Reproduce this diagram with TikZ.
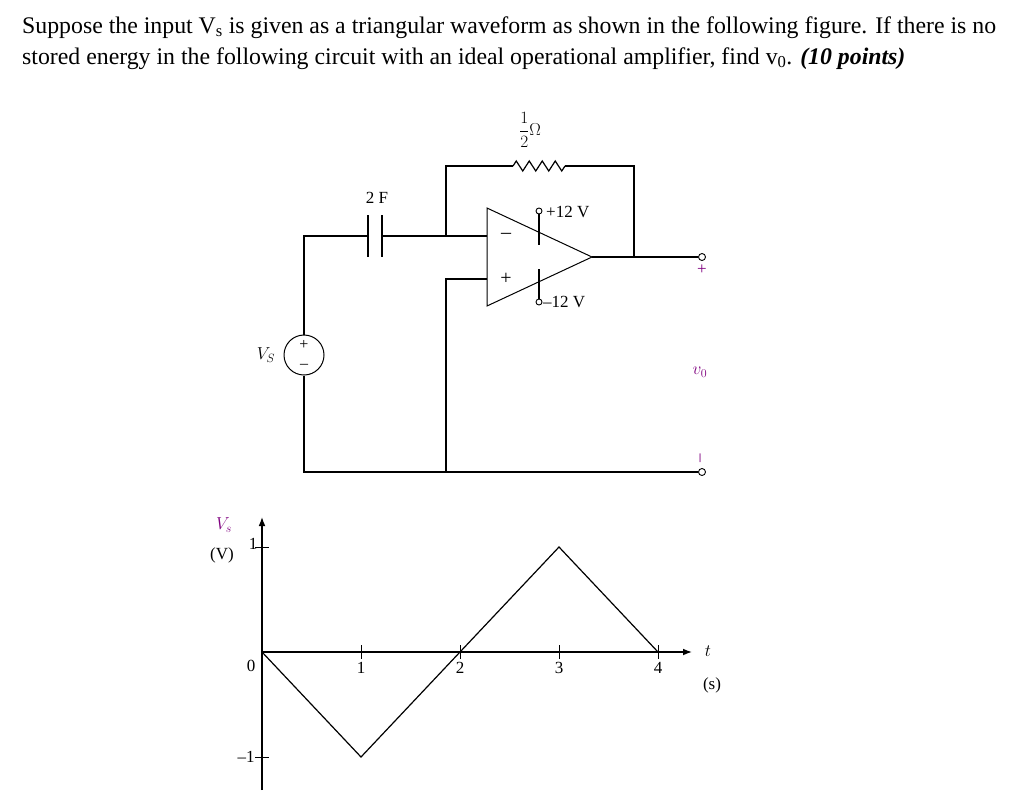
\documentclass[tikz,border=0pt]{standalone}
\usepackage{fontspec}
\setmainfont{Liberation Serif}
\usetikzlibrary{arrows.meta,decorations.pathmorphing}
\begin{document}
\begin{tikzpicture}[x=1pt,y=-1pt,
  wire/.style={line width=1.2pt},
  term/.style={circle,draw,line width=0.9pt,inner sep=0pt,minimum size=7pt,fill=white},
  lbl/.style={font=\fontsize{17}{17}\selectfont,inner sep=1pt}]
\useasboundingbox (0,0) rectangle (1024,804);
\fill[white] (0,0) rectangle (1024,804);
\node[anchor=base west,inner sep=0pt,font=\fontsize{23.8}{24}\selectfont] (t1) at (22,33) {Suppose the input V\textsubscript{s} is given as a triangular waveform as shown in the following figure. If there is no};
\node[anchor=base west,inner sep=0pt,font=\fontsize{23.8}{24}\selectfont] (t2) at (22,64) {stored energy in the following circuit with an ideal operational amplifier, find v\textsubscript{0}. \textbf{\textit{(10 points)}}};
% op amp
\coordinate (oL1) at (487,208); \coordinate (oL2) at (487,306); \coordinate (oT) at (592,257);
\draw[line width=1pt] (oL1) -- (oT) -- (oL2) -- cycle;
\node[lbl,font=\fontsize{20}{20}\selectfont] (minus) at (506,236) {--};
\node[lbl,font=\fontsize{20}{20}\selectfont] (plus) at (506,279) {+};
% supply
\node[term,minimum size=6pt] (vp) at (539,211) {};
\node[term,minimum size=6pt] (vm) at (539,302) {};
\draw[wire] (vp) -- (539,245); \draw[wire] (vm) -- (539,269);
\node[lbl,anchor=west] (vpl) at (545,212) {+12 V};
\node[lbl,anchor=west] (vml) at (542,302) {–12 V};
% feedback
\coordinate (nA) at (446,236);
\coordinate (nB) at (634,257);
\draw[wire] (nA) -- (487,236);
\draw[wire] (nA) -- (446,166) -- (513,166);
\draw[wire,decorate,decoration={zigzag,segment length=13pt,amplitude=5pt}] (513,166) -- (565,166);
\draw[wire] (565,166) -- (634,166) -- (nB);
\node[lbl] (rl) at (530,130) {$\displaystyle\frac{1}{2}\Omega$};
% output
\node[term] (o1) at (702,257) {};
\node[term] (o2) at (702,472) {};
\draw[wire] (oT) -- (o1);
\node[lbl,text=violet] (op) at (702,270) {+};
\node[lbl,text=violet,rotate=90] (om) at (702,458) {--};
\node[lbl,text=violet] (vo) at (700,372) {$v_0$};
% capacitor
\draw[wire] (nA) -- (382,236); \draw[wire] (368,236) -- (304,236) -- (304,335);
\draw[wire] (368,215) -- (368,257); \draw[wire] (382,215) -- (382,257);
\node[lbl] (cl) at (377,198) {2 F};
% source
\node[circle,draw,line width=1pt,minimum size=40pt,inner sep=0pt] (src) at (304,355) {};
\node[lbl,font=\fontsize{16}{16}\selectfont,inner sep=0pt] (sp) at (304,345) {+}; \node[lbl,font=\fontsize{16}{16}\selectfont,inner sep=0pt] (sm) at (304,366) {--};
\node[lbl] (vs) at (266,355) {$V_S$};
\draw[wire] (src) -- (304,472) -- (o2);
\draw[wire] (487,279) -- (446,279) -- (446,472);
% plot
\draw[wire,-{Latex[length=9pt]}] (262,790) -- (262,517);
\draw[wire,-{Latex[length=9pt]}] (262,652) -- (692,652);
\foreach \i in {1,2,3,4} \draw[line width=0.8pt] (262+99*\i,645) -- (262+99*\i,659);
\draw[line width=0.8pt] (255,547) -- (269,547); \draw[line width=0.8pt] (255,757) -- (269,757);
\draw[wire] (262,652) -- (361,757) -- (559,547) -- (658,652);
\foreach \i in {1,2,3,4} \node[lbl] (tk\i) at (262+99*\i,668) {\i};
\node[lbl] (y1) at (253,544) {1};
\node[lbl] (y0) at (251,666) {0};
\node[lbl] (ym) at (246,757) {–1};
\node[lbl,text=violet] (vsl) at (224,525) {$V_s$};
\node[lbl] (vu) at (222,555) {(V)};
\node[lbl] (tl) at (708,651) {$t$};
\node[lbl] (su) at (712,685) {(s)};
\end{tikzpicture}
\end{document}
